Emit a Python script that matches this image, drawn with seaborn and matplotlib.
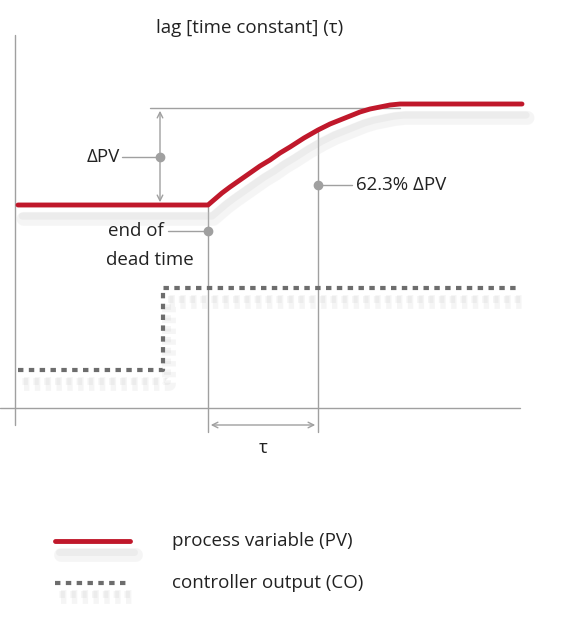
import numpy as np
import pandas as pd
import matplotlib.pyplot as plt
import matplotlib.patheffects as pe
import seaborn as sns

sns.set_style("white")
plt.rcParams['font.family'] = ['Open Sans', 'DejaVu Sans']

# values (pixel-like units, y grows downward)
pv_x = [18, 208, 215, 222, 230, 240, 250, 260, 270, 280, 290, 304, 318, 330, 340, 350, 360, 370, 380, 390, 400, 410, 522]
pv_y = [205, 205, 199, 193, 187, 180, 173, 166, 160, 153, 147, 138, 130, 124, 120, 116, 112, 109, 107, 105, 104, 104, 104]
co_x = [18, 163, 163, 520]
co_y = [370, 370, 288, 288]

grey = '#a0a0a0'
red = '#c0182b'
dgrey = '#6d6d6d'
shadow = [pe.SimpleLineShadow(offset=(4, -10), shadow_color='#cccccc', alpha=0.18, linewidth=10),
          pe.SimpleLineShadow(offset=(3, -8), shadow_color='#bbbbbb', alpha=0.15, linewidth=5),
          pe.Normal()]

fig = plt.figure(figsize=(5.63, 6.36), dpi=100)
ax = fig.add_axes([0, 0, 1, 1])
ax.set_xlim(0, 563)
ax.set_ylim(636, 0)
ax.axis('off')

# axes of the diagram
ax.plot([15, 15], [35, 425], color=grey, lw=1)
ax.plot([0, 520], [408, 408], color=grey, lw=1)

# guide lines
ax.plot([150, 400], [108, 108], color=grey, lw=1)
ax.plot([208, 208], [205, 432], color=grey, lw=1)
ax.plot([318, 318], [130, 432], color=grey, lw=1)
ax.annotate('', xy=(208, 425), xytext=(318, 425),
            arrowprops=dict(arrowstyle='<->', color=grey, lw=1))
ax.annotate('', xy=(160, 108), xytext=(160, 205),
            arrowprops=dict(arrowstyle='<->', color=grey, lw=1))

sns.lineplot(x=co_x, y=co_y, sort=False, estimator=None, ax=ax, color=dgrey, lw=3,
             linestyle=(0, (1.3, 1.3)), path_effects=shadow)
sns.lineplot(x=pv_x, y=pv_y, sort=False, estimator=None, ax=ax, color=red, lw=3.5,
             path_effects=shadow)

# callouts
ax.plot([122, 160], [157, 157], color=grey, lw=1)
ax.plot(160, 157, 'o', color=grey, ms=6)
ax.plot([168, 208], [231, 231], color=grey, lw=1)
ax.plot(208, 231, 'o', color=grey, ms=6)
ax.plot([318, 352], [185, 185], color=grey, lw=1)
ax.plot(318, 185, 'o', color=grey, ms=6)

fs = 13.5
tc = '#222222'
ax.text(250, 28, 'lag [time constant] (τ)', ha='center', va='center', fontsize=fs, color=tc)
ax.text(120, 157, 'ΔPV', ha='right', va='center', fontsize=fs, color=tc)
ax.text(164, 231, 'end of', ha='right', va='center', fontsize=fs, color=tc)
ax.text(150, 260, 'dead time', ha='center', va='center', fontsize=fs, color=tc)
ax.text(356, 185, '62.3% ΔPV', ha='left', va='center', fontsize=fs, color=tc)
ax.text(263, 448, 'τ', ha='center', va='center', fontsize=fs, color=tc)

# legend
ax.plot([55, 130], [541, 541], color=red, lw=3.5, path_effects=shadow)
ax.plot([55, 130], [583, 583], color=dgrey, lw=3, linestyle=(0, (1.3, 1.3)), path_effects=shadow)
ax.text(172, 541, 'process variable (PV)', ha='left', va='center', fontsize=fs, color=tc)
ax.text(172, 583, 'controller output (CO)', ha='left', va='center', fontsize=fs, color=tc)

fig.savefig('out.png', dpi=100)
